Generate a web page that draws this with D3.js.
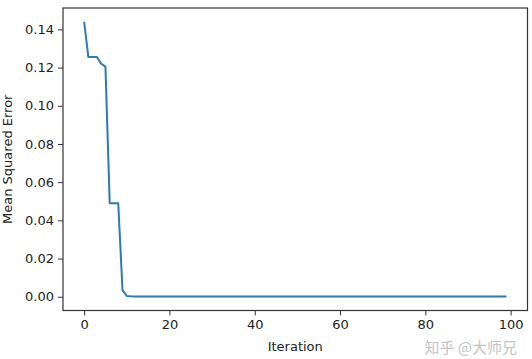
<!DOCTYPE html>
<html><head><meta charset="utf-8">
<script src="https://cdn.jsdelivr.net/npm/d3@7"></script>
<style>body{margin:0;background:#fff}svg{display:block}</style>
</head><body>
<svg id="c" width="532" height="359"></svg>
<script>
const headValues = [0.144, 0.1255, 0.1255, 0.1255, 0.122, 0.1205, 0.049, 0.049, 0.049, 0.0035, 0.0004, 0.0002];
const tailValue = 0.0001;
const iterations = d3.range(100);
const mse = iterations.map(i => i < headValues.length ? headValues[i] : tailValue);
const xTicks = [0, 20, 40, 60, 80, 100];
const yTicks = [0, 0.02, 0.04, 0.06, 0.08, 0.10, 0.12, 0.14];

const svg = d3.select("#c");
const L = 63, R = 527.5, T = 8, B = 310.5;
const xs = d3.scaleLinear().domain([-4.95, 103.95]).range([L, R]);
const ys = d3.scaleLinear().domain([-0.0072, 0.1512]).range([B, T]);
const font = "DejaVu Sans, sans-serif";

const gx = svg.append("g").attr("transform", `translate(0,${B})`)
  .call(d3.axisBottom(xs).tickValues(xTicks).tickSize(5).tickPadding(4).tickFormat(d3.format("d")));
const gy = svg.append("g").attr("transform", `translate(${L},0)`)
  .call(d3.axisLeft(ys).tickValues(yTicks).tickSize(5).tickPadding(4).tickFormat(d3.format(".2f")));
[gx, gy].forEach(g => {
  g.select(".domain").remove();
  g.selectAll("line").attr("stroke", "#333");
  g.selectAll("text").attr("font-family", font).attr("font-size", 13).attr("fill", "#222");
});

svg.append("rect").attr("x", L).attr("y", T).attr("width", R - L).attr("height", B - T)
  .attr("fill", "none").attr("stroke", "#333").attr("stroke-width", 1.2);

svg.append("path").datum(mse)
  .attr("fill", "none").attr("stroke", "#2b7bb6").attr("stroke-width", 2)
  .attr("stroke-linejoin", "round")
  .attr("d", d3.line().x((d, i) => xs(iterations[i])).y(d => ys(d)));

svg.append("text").attr("x", (L + R) / 2).attr("y", 351).attr("text-anchor", "middle")
  .attr("font-family", font).attr("font-size", 13).attr("fill", "#222").text("Iteration");
svg.append("text").attr("transform", `translate(12,${(T + B) / 2}) rotate(-90)`)
  .attr("text-anchor", "middle").attr("font-family", font).attr("font-size", 13).attr("fill", "#222")
  .text("Mean Squared Error");

svg.append("text").attr("x", 517).attr("y", 353).attr("text-anchor", "end")
  .attr("font-family", "Noto Sans CJK SC, sans-serif").attr("font-size", 15).attr("fill", "#c4c4c4")
  .text("知乎 @大师兄");
</script>
</body></html>
